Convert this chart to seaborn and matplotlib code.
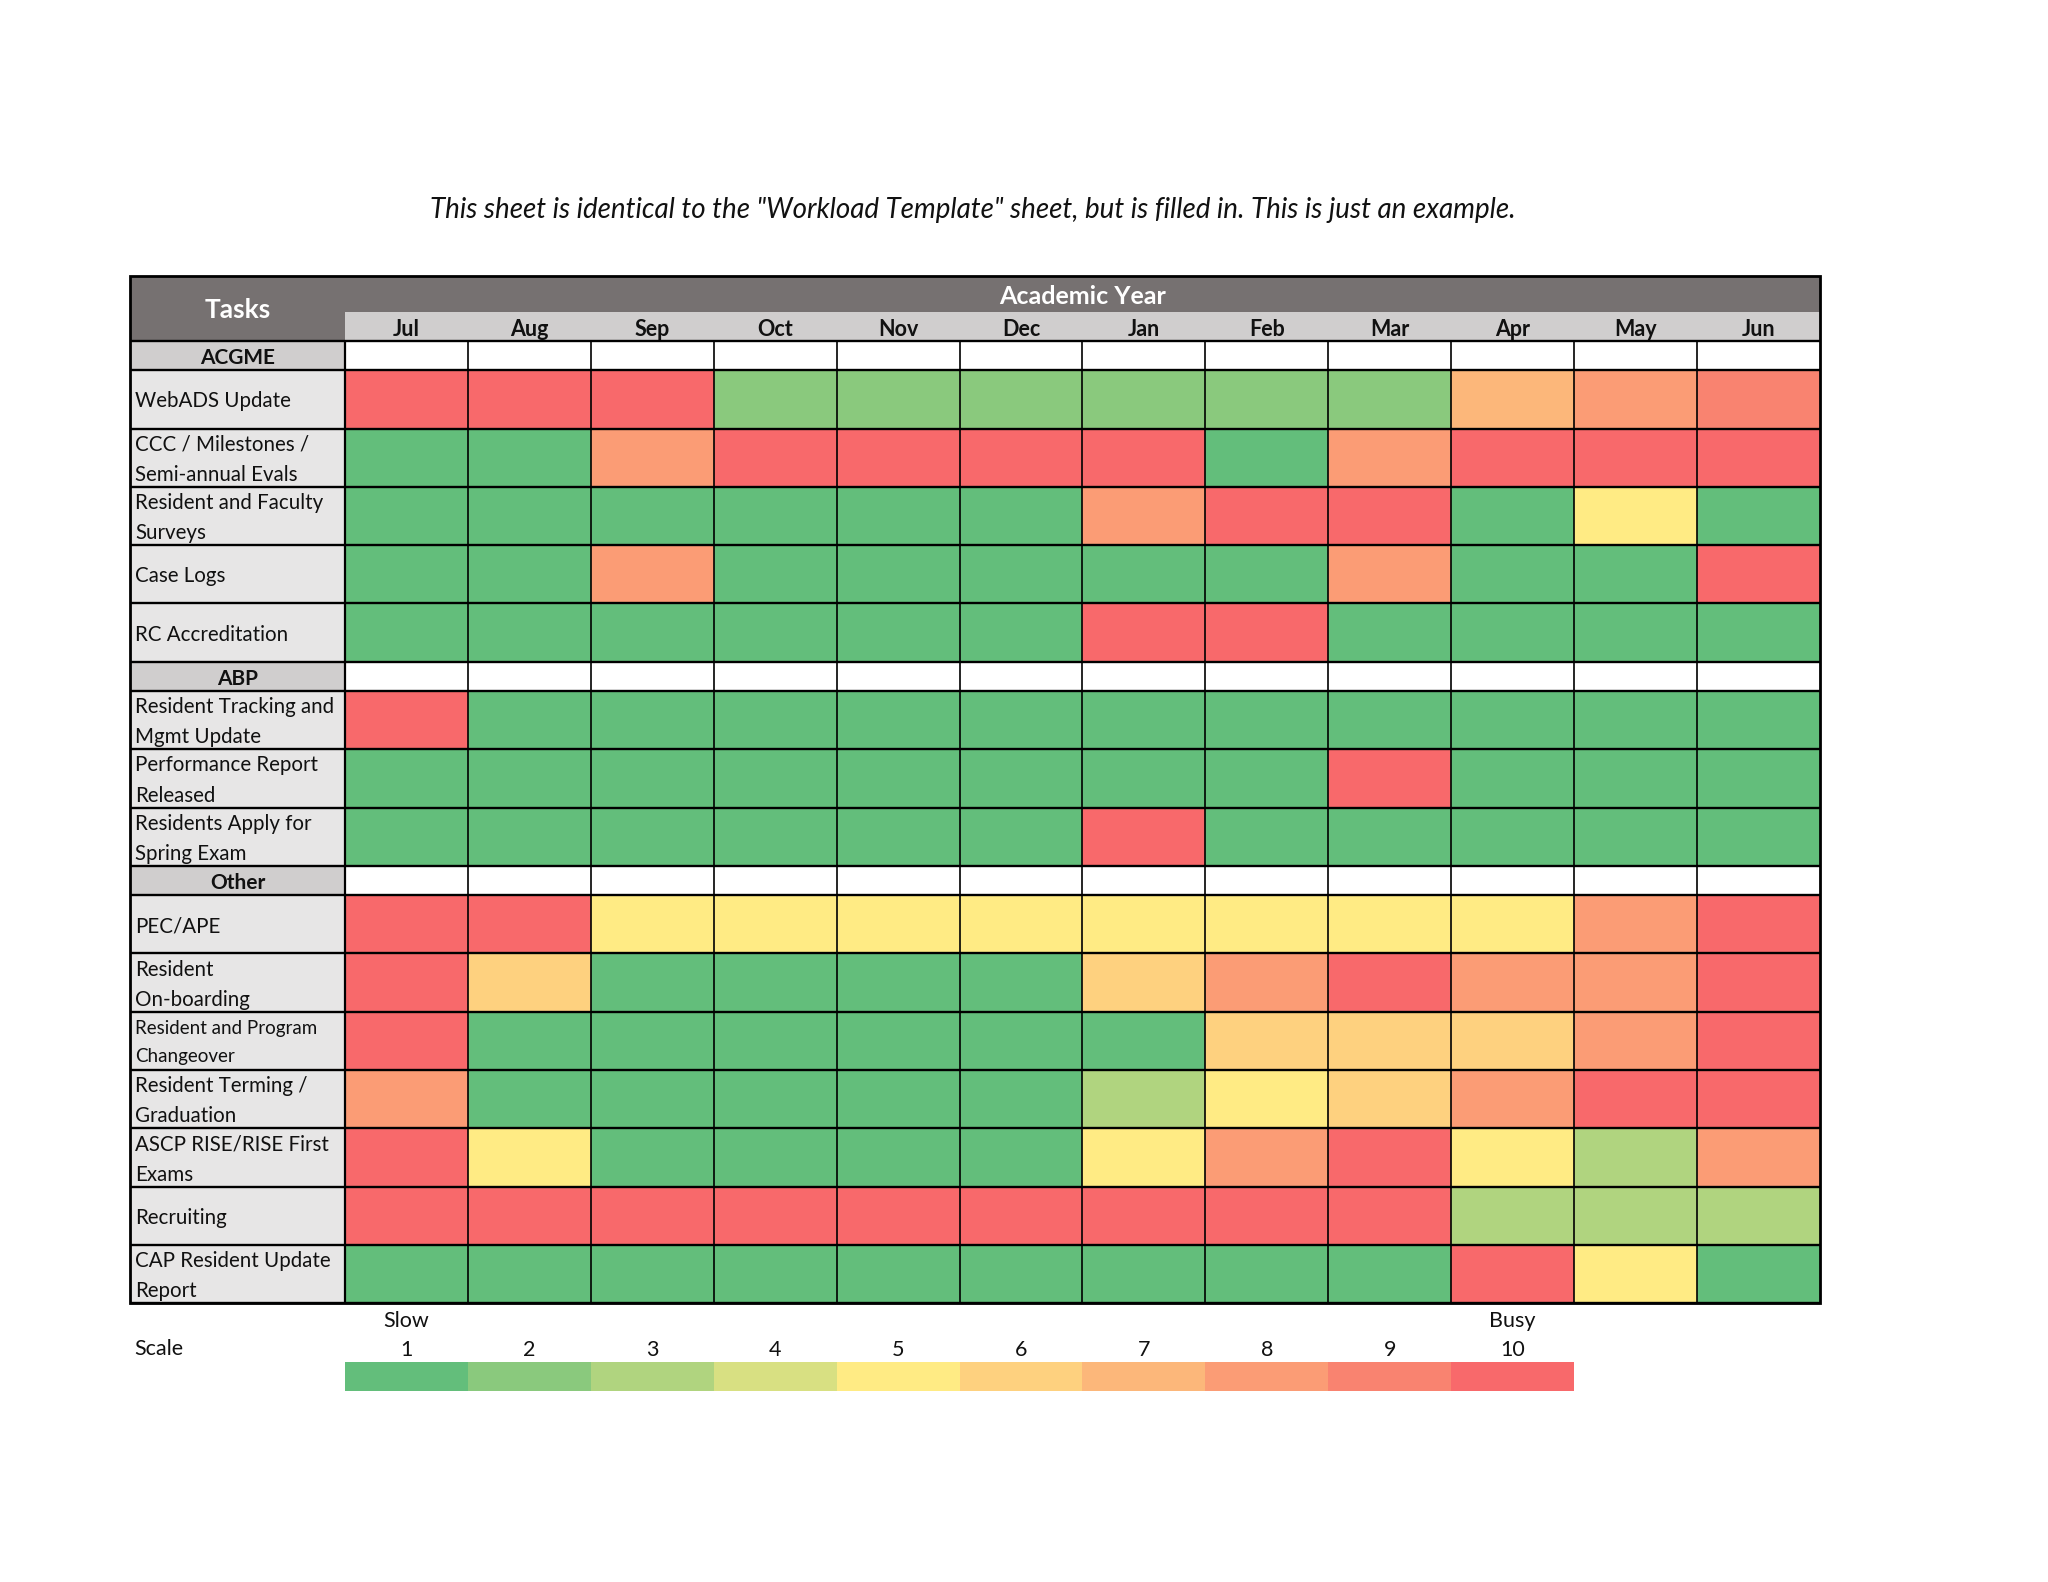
# ==========================================
# WORKLOAD HEATMAP (ACADEMIC YEAR)
# ==========================================

import numpy as np
import pandas as pd
import matplotlib
matplotlib.use("Agg")
import matplotlib.pyplot as plt
import seaborn as sns
from matplotlib.colors import LinearSegmentedColormap
from matplotlib.patches import Rectangle

# ==========================================
# DATA
# ==========================================

months = ["Jul", "Aug", "Sep", "Oct", "Nov", "Dec",
          "Jan", "Feb", "Mar", "Apr", "May", "Jun"]

acgme_tasks = [
    "WebADS Update",
    "CCC / Milestones /\nSemi-annual Evals",
    "Resident and Faculty\nSurveys",
    "Case Logs",
    "RC Accreditation",
]
acgme_load = [
    [10, 10, 10, 2, 2, 2, 2, 2, 2, 7, 8, 9],
    [1, 1, 8, 10, 10, 10, 10, 1, 8, 10, 10, 10],
    [1, 1, 1, 1, 1, 1, 8, 10, 10, 1, 5, 1],
    [1, 1, 8, 1, 1, 1, 1, 1, 8, 1, 1, 10],
    [1, 1, 1, 1, 1, 1, 10, 10, 1, 1, 1, 1],
]

abp_tasks = [
    "Resident Tracking and\nMgmt Update",
    "Performance Report\nReleased",
    "Residents Apply for\nSpring Exam",
]
abp_load = [
    [10, 1, 1, 1, 1, 1, 1, 1, 1, 1, 1, 1],
    [1, 1, 1, 1, 1, 1, 1, 1, 10, 1, 1, 1],
    [1, 1, 1, 1, 1, 1, 10, 1, 1, 1, 1, 1],
]

other_tasks = [
    "PEC/APE",
    "Resident\nOn-boarding",
    "Resident and Program\nChangeover",
    "Resident Terming /\nGraduation",
    "ASCP RISE/RISE First\nExams",
    "Recruiting",
    "CAP Resident Update\nReport",
]
other_load = [
    [10, 10, 5, 5, 5, 5, 5, 5, 5, 5, 8, 10],
    [10, 6, 1, 1, 1, 1, 6, 8, 10, 8, 8, 10],
    [10, 1, 1, 1, 1, 1, 1, 6, 6, 6, 8, 10],
    [8, 1, 1, 1, 1, 1, 3, 5, 6, 8, 10, 10],
    [10, 5, 1, 1, 1, 1, 5, 8, 10, 5, 3, 8],
    [10, 10, 10, 10, 10, 10, 10, 10, 10, 3, 3, 3],
    [1, 1, 1, 1, 1, 1, 1, 1, 1, 10, 5, 1],
]

section_names = ["ACGME", "ABP", "Other"]
scale_levels = [1, 2, 3, 4, 5, 6, 7, 8, 9, 10]

title = ('This sheet is identical to the "Workload Template" sheet, '
         'but is filled in. This is just an example.')

# ==========================================
# STYLE / LAYOUT (pixels)
# ==========================================

sns.set_style("white")
plt.rcParams["font.family"] = ["Lato", "DejaVu Sans"]

W, H = 2048, 1582
X_LEFT, X_LAB, COL_W = 130, 345, 122.9
X_RIGHT = X_LAB + COL_W * len(months)
Y_TOP, Y_DARK, Y_HEAD = 275.5, 312, 341
ROW_H, SEC_H = 58.33, 29.17

DARK = "#767171"
MID_GRAY = "#D0CECE"
LIGHT_GRAY = "#E7E6E6"
INK = "#111111"

# Excel style 3-colour scale: green (1) -> yellow (5) -> red (10)
cmap = LinearSegmentedColormap.from_list(
    "workload", [(0.0, "#63BE7B"), (4 / 9, "#FFEB84"), (1.0, "#F8696B")]
)

fig = plt.figure(figsize=(W / 100, H / 100), dpi=100)


def px_axes(x0, y0, x1, y1):
    return fig.add_axes([x0 / W, 1 - y1 / H, (x1 - x0) / W, (y1 - y0) / H])


bg = fig.add_axes([0, 0, 1, 1])
bg.set_xlim(0, W)
bg.set_ylim(H, 0)
bg.axis("off")

# title
bg.text(973, 210, title, ha="center", va="center",
        style="italic", fontsize=20, color=INK)

# header band
bg.add_patch(Rectangle((X_LEFT, Y_TOP), X_RIGHT - X_LEFT, Y_DARK - Y_TOP, color=DARK, lw=0))
bg.add_patch(Rectangle((X_LEFT, Y_DARK), X_LAB - X_LEFT, Y_HEAD - Y_DARK, color=DARK, lw=0))
bg.add_patch(Rectangle((X_LAB, Y_DARK), X_RIGHT - X_LAB, Y_HEAD - Y_DARK, color=MID_GRAY, lw=0))
bg.text((X_LEFT + X_LAB) / 2, 310, "Tasks", ha="center", va="center",
        color="white", fontweight="bold", fontsize=19)
bg.text((X_LAB + X_RIGHT) / 2, 296, "Academic Year", ha="center", va="center",
        color="white", fontweight="bold", fontsize=18)
for j, m in enumerate(months):
    bg.text(X_LAB + (j + 0.5) * COL_W, 329.5, m, ha="center", va="center",
            fontweight="bold", fontsize=15.5, color=INK)

# ==========================================
# SECTIONS
# ==========================================

sections = [
    (section_names[0], acgme_tasks, acgme_load),
    (section_names[1], abp_tasks, abp_load),
    (section_names[2], other_tasks, other_load),
]

y = Y_HEAD
line_ys = [Y_HEAD]
for name, tasks, load in sections:
    bg.add_patch(Rectangle((X_LEFT, y), X_LAB - X_LEFT, SEC_H, color=MID_GRAY, lw=0))
    bg.text((X_LEFT + X_LAB) / 2, y + SEC_H / 2 + 2.5, name, ha="center", va="center",
            fontweight="bold", fontsize=15, color=INK)
    y += SEC_H
    line_ys.append(y)

    df = pd.DataFrame(load, index=tasks, columns=months)
    hm_ax = px_axes(X_LAB, y, X_RIGHT, y + len(tasks) * ROW_H)
    sns.heatmap(df, ax=hm_ax, cmap=cmap, vmin=1, vmax=10, cbar=False,
                xticklabels=False, yticklabels=False, linewidths=0)
    hm_ax.set_xlabel("")
    hm_ax.set_ylabel("")

    for i, task in enumerate(tasks):
        bg.add_patch(Rectangle((X_LEFT, y + i * ROW_H), X_LAB - X_LEFT, ROW_H,
                               color=LIGHT_GRAY, lw=0))
        size = 13.5 if task.startswith("Resident and Program") else 14.8
        spacing = 1.63 * 14.8 / size
        bg.text(X_LEFT + 5, y + (i + 0.5) * ROW_H + 2, task, ha="left", va="center",
                fontsize=size, linespacing=spacing, color=INK)
        line_ys.append(y + (i + 1) * ROW_H)
    y += len(tasks) * ROW_H

y_bottom = y

# ==========================================
# SCALE LEGEND
# ==========================================

scale_ax = px_axes(X_LAB, 1362, X_LAB + COL_W * len(scale_levels), 1391)
sns.heatmap([scale_levels], ax=scale_ax, cmap=cmap, vmin=1, vmax=10, cbar=False,
            xticklabels=scale_levels, yticklabels=False, linewidths=0)
scale_ax.tick_params(axis="x", top=False, bottom=False, labeltop=True,
                     labelbottom=False, length=0, pad=1.5, labelsize=15.5, labelcolor=INK)
bg.text(X_LEFT + 4, 1349, "Scale", ha="left", va="center", fontsize=15.5, color=INK)
bg.text(X_LAB + 0.5 * COL_W, 1321, "Slow", ha="center", va="center", fontsize=15.5, color=INK)
bg.text(X_LAB + 9.5 * COL_W, 1321, "Busy", ha="center", va="center", fontsize=15.5, color=INK)

# ==========================================
# GRID LINES ON TOP
# ==========================================

ov = fig.add_axes([0, 0, 1, 1])
ov.set_xlim(0, W)
ov.set_ylim(H, 0)
ov.axis("off")

col_edges = [X_LAB + j * COL_W for j in range(1, len(months))]
ov.vlines(col_edges, Y_HEAD, y_bottom, color="black", lw=1.2)
ov.vlines([X_LAB], Y_HEAD, y_bottom, color="black", lw=1.6)
ov.hlines(line_ys, X_LEFT, X_RIGHT, color="black", lw=1.7)
ov.add_patch(Rectangle((X_LEFT, Y_TOP), X_RIGHT - X_LEFT, y_bottom - Y_TOP,
                       fill=False, ec="black", lw=2))

fig.savefig("out.png", dpi=100, facecolor="white")
